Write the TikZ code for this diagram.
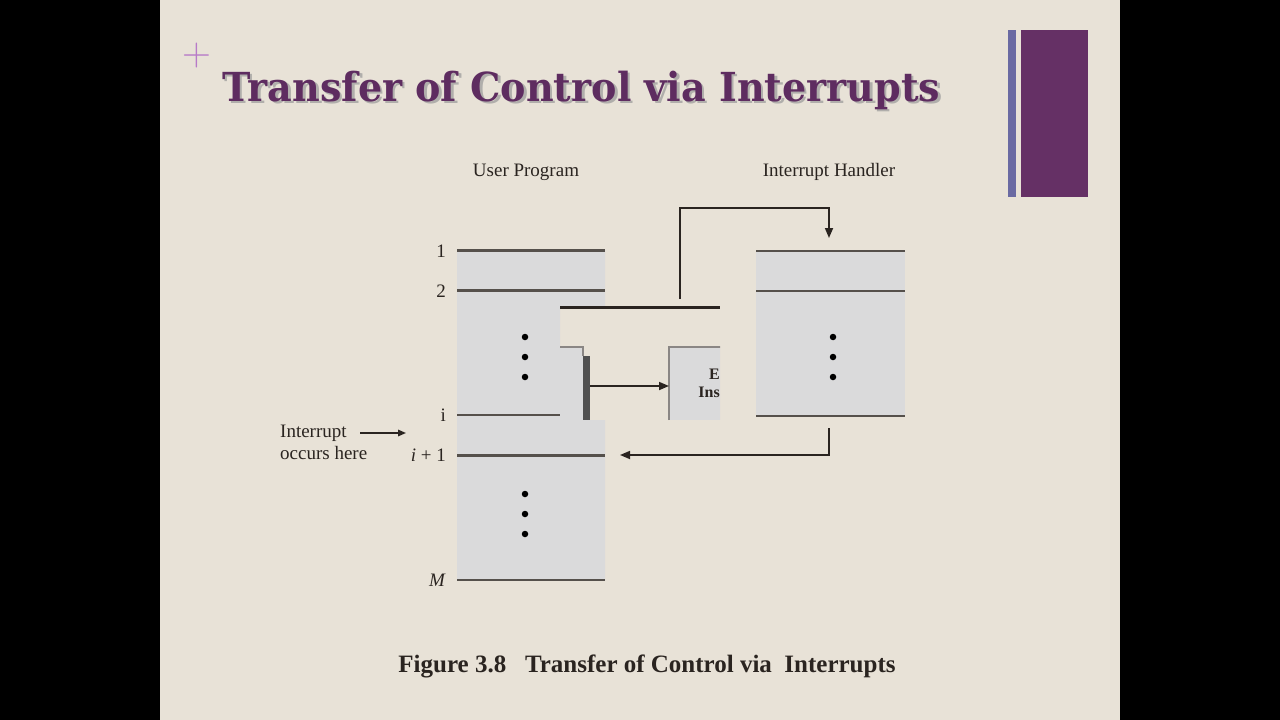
\documentclass[tikz,border=0pt]{standalone}
\usepackage{fontspec}
\setmainfont{Liberation Serif}
\newfontfamily\titlefont{DejaVu Serif}
\newfontfamily\lmfont{Latin Modern Roman}
\usetikzlibrary{arrows.meta}
\definecolor{slidebg}{HTML}{E8E2D7}
\definecolor{boxgray}{HTML}{DADADB}
\definecolor{titlepurple}{HTML}{5E2C60}
\definecolor{barpurple}{HTML}{653065}
\definecolor{barblue}{HTML}{6A6AA2}
\definecolor{pluspurple}{HTML}{B77AC8}
\definecolor{ink}{HTML}{2A2420}
\definecolor{rulecol}{HTML}{55504B}
\definecolor{edgegray}{HTML}{8A8684}
\definecolor{barshade}{HTML}{505050}
\tikzset{
  lbl/.style={inner sep=0pt, text=ink, font=\fontsize{19}{22}\selectfont},
  rowline/.style={draw=rulecol, line width=2.2pt},
  arr/.style={draw=ink, line width=1.7pt, -{Triangle[length=10pt,width=8pt]}},
  smallarr/.style={draw=ink, line width=1.5pt, -{Triangle[length=8pt,width=6.5pt]}},
  dotmark/.style={circle, fill=black, inner sep=0pt, minimum size=6.5pt},
  titletext/.style={anchor=base west, inner sep=0pt, font=\titlefont\bfseries\fontsize{40}{44}\selectfont},
}
\begin{document}
\begin{tikzpicture}[x=1pt,y=-1pt]
\useasboundingbox (0,0) rectangle (1280,720);
\fill[black] (0,0) rectangle (1280,720);
\fill[slidebg] (160,0) rectangle (1120,720);

% decorations
\fill[barblue] (1008,30) rectangle (1016,197);
\fill[barpurple] (1021,30) rectangle (1088,197);
\node[text=pluspurple, inner sep=0pt, font=\lmfont\fontsize{40}{40}\selectfont] (plus) at (197,56) {+};

% title
\node[titletext, text=gray!80, opacity=0.7] (titleshadow) at (224.5,103.5) {\scalebox{0.952}[1]{Transfer of Control via Interrupts}};
\node[titletext, text=titlepurple] (title) at (222,101) {\scalebox{0.952}[1]{Transfer of Control via Interrupts}};

% column headings
\node[lbl] (uphead) at (526,172) {User Program};
\node[lbl] (ihhead) at (829,172) {Interrupt Handler};

% user program gray area (with the glitched cut-out)
\fill[boxgray] (457,250) -- (605,250) -- (605,307) -- (560,307) -- (560,347) -- (583,347)
   -- (583,420) -- (605,420) -- (605,580) -- (457,580) -- cycle;
\draw[edgegray, line width=1.2pt] (560,347) -- (583,347) -- (583,356);
\fill[barshade] (583,356) rectangle (590,420);

% rows
\draw[rowline] (457,250.5) -- (605,250.5);
\draw[rowline] (457,290.5) -- (605,290.5);
\draw[rowline] (457,415) -- (560,415);
\draw[rowline] (457,455.5) -- (605,455.5);
\draw[rowline] (457,580) -- (605,580);
\draw[draw=ink, line width=2.6pt] (560,307.5) -- (720,307.5);

% row labels
\node[lbl, anchor=east] (l1) at (446,251) {1};
\node[lbl, anchor=east] (l2) at (446,291) {2};
\node[lbl, anchor=east] (li) at (446,415) {i};
\node[lbl, anchor=east] (lip) at (446,455) {\textit{i} + 1};
\node[lbl, anchor=east] (lm) at (446,580) {\textit{M}};

% interrupt label
\node[lbl, align=left, anchor=west] (intlbl) at (280,442) {Interrupt\\occurs here};
\coordinate (intA) at (360,433);
\coordinate (intB) at (406,433);
\draw[smallarr] (intA) -- (intB);

% clipped E / Ins box
\begin{scope}
\clip (660,340) rectangle (720,421);
\fill[boxgray] (669,347) rectangle (730,420);
\draw[edgegray, line width=1.4pt] (669,420) -- (669,347) -- (730,347);
\node[inner sep=0pt, anchor=east, text=ink, font=\bfseries\fontsize{16}{18}\selectfont] (etxt) at (720,374) {E};
\node[inner sep=0pt, anchor=east, text=ink, font=\bfseries\fontsize{16}{18}\selectfont] (itxt) at (720,392) {Ins};
\end{scope}

% handler box
\fill[boxgray] (756,251) rectangle (905,416);
\draw[rowline] (756,251) -- (905,251);
\draw[rowline] (756,291) -- (905,291);
\draw[rowline] (756,416) -- (905,416);

% dots
\foreach \yy [count=\k] in {337,357,377} {\node[dotmark] (ud\k) at (525,\yy) {};}
\foreach \yy [count=\k] in {494,514,534} {\node[dotmark] (ld\k) at (525,\yy) {};}
\foreach \yy [count=\k] in {337,357,377} {\node[dotmark] (hd\k) at (833,\yy) {};}

% connectors
\coordinate (barR) at (590,386);
\coordinate (eboxL) at (669,386);
\draw[arr] (barR) -- (eboxL);
\coordinate (jumpS) at (680,299);
\coordinate (jumpTop) at (680,208);
\coordinate (handlerIn) at (829,238);
\draw[arr] (jumpS) -- (jumpTop) -| (handlerIn);
\coordinate (retS) at (829,428);
\coordinate (retE) at (620,455);
\draw[arr] (retS) |- (retE);

% caption
\node[anchor=base, inner sep=0pt, text=ink, font=\bfseries\fontsize{25}{28}\selectfont] (caption) at (647,672) {Figure 3.8\hspace{0.75em}Transfer of Control via\hspace{0.5em}Interrupts};
\end{tikzpicture}
\end{document}
